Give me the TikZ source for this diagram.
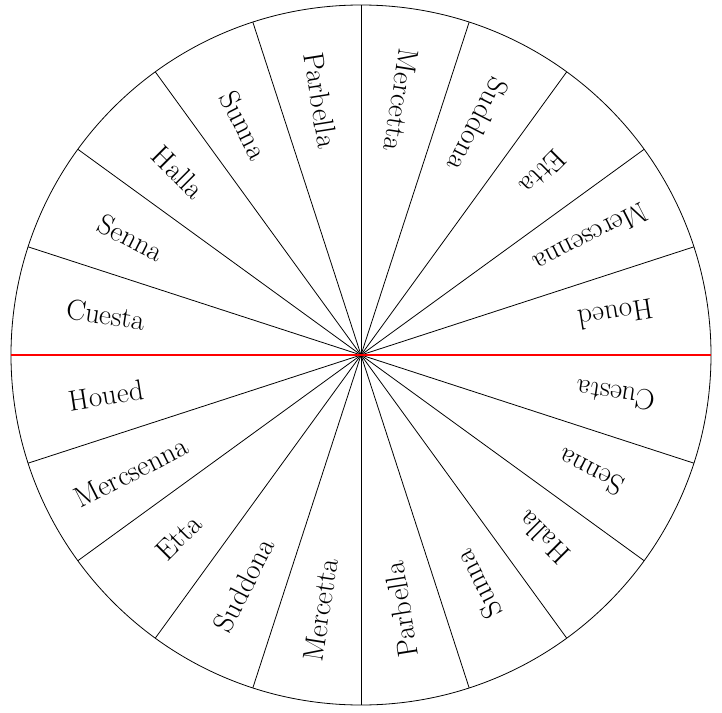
\documentclass[tikz,border=0pt]{standalone}
\begin{document}
\begin{tikzpicture}[x=1pt,y=1pt,lab/.style={font=\fontsize{29}{30}\selectfont,inner sep=0pt}]
\useasboundingbox (-361,-357) rectangle (361,355);
\coordinate (o) at (0,0);
\foreach \a in {0,18,...,342} \draw[line width=0.8] (o) -- (\a:350);
\draw[line width=0.8] (o) circle (350);
\foreach \n [count=\i from 0] in {Houed,Mercsenna,Etta,Suddona,Mercetta,Parbella,Sunna,Halla,Senna,Cuesta,Houed,Mercsenna,Etta,Suddona,Mercetta,Parbella,Sunna,Halla,Senna,Cuesta}
  \node[lab,rotate={18*\i+9+180}] (l\i) at ({18*\i+9}:258) {\n};
\draw[red,line width=2] (180:350) -- (0:350);
\end{tikzpicture}
\end{document}
